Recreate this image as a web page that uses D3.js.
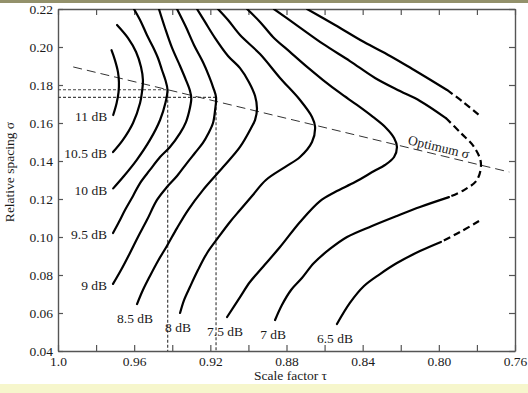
<!DOCTYPE html>
<html><head><meta charset="utf-8">
<script src="https://cdn.jsdelivr.net/npm/d3@7"></script>
<style>
body{margin:0;background:#fff}
svg{display:block}
text{font-family:"Liberation Serif","Times New Roman",serif}
</style>
</head><body>
<svg id="chart" width="528" height="393"></svg>
<script>
// ---------- data ----------
const xDomain = [1.0, 0.76];
const yDomain = [0.04, 0.22];
const xTicks = [1.0, 0.98, 0.96, 0.94, 0.92, 0.90, 0.88, 0.86, 0.84, 0.82, 0.80, 0.78, 0.76];
const xTickLabels = ["1.0", "", "0.96", "", "0.92", "", "0.88", "", "0.84", "", "0.80", "", "0.76"];
const yTicks = [0.04, 0.06, 0.08, 0.10, 0.12, 0.14, 0.16, 0.18, 0.20, 0.22];
const yTickLabels = ["0.04", "0.06", "0.08", "0.10", "0.12", "0.14", "0.16", "0.18", "0.20", "0.22"];
const xTitle = "Scale factor \u03c4";
const yTitle = "Relative spacing \u03c3";
const optimumLabel = "Optimum \u03c3";
const curveLabels = ["11 dB", "10.5 dB", "10 dB", "9.5 dB", "9 dB", "8.5 dB", "8 dB", "7.5 dB", "7 dB", "6.5 dB"];

// contour curves: [tau, sigma]
const curve11 = [[0.9719,0.1983],[0.9701,0.1931],[0.9685,0.1868],[0.9680,0.1815],[0.9682,0.1762],[0.9692,0.1705],[0.9710,0.1642]];
const curve10_5 = [[0.9690,0.2116],[0.9632,0.2047],[0.9590,0.1974],[0.9564,0.1895],[0.9554,0.1826],[0.9559,0.1763],[0.9569,0.1705],[0.9606,0.1600],[0.9659,0.1511],[0.9711,0.1447]];
const curve10 = [[0.9601,0.2200],[0.9564,0.2132],[0.9533,0.2063],[0.9501,0.2000],[0.9475,0.1942],[0.9454,0.1879],[0.9436,0.1826],[0.9425,0.1775],[0.9436,0.1705],[0.9464,0.1616],[0.9517,0.1511],[0.9587,0.1405],[0.9657,0.1317],[0.9710,0.1256]];
const curve9_5 = [[0.9470,0.2200],[0.9438,0.2100],[0.9401,0.1995],[0.9359,0.1900],[0.9328,0.1826],[0.9307,0.1770],[0.9300,0.1730],[0.9307,0.1680],[0.9328,0.1605],[0.9359,0.1547],[0.9412,0.1474],[0.9464,0.1421],[0.9517,0.1353],[0.9569,0.1284],[0.9606,0.1216],[0.9648,0.1142],[0.9680,0.1079],[0.9711,0.1021]];
const curve9 = [[0.9375,0.2200],[0.9328,0.2105],[0.9286,0.2011],[0.9239,0.1921],[0.9207,0.1847],[0.9184,0.1784],[0.9170,0.1735],[0.9175,0.1668],[0.9186,0.1600],[0.9212,0.1542],[0.9239,0.1495],[0.9281,0.1442],[0.9323,0.1389],[0.9375,0.1321],[0.9428,0.1263],[0.9480,0.1195],[0.9533,0.1089],[0.9580,0.1000],[0.9622,0.0916],[0.9669,0.0826],[0.9711,0.0753]];
const curve8_5 = [[0.9270,0.2200],[0.9228,0.2132],[0.9175,0.2047],[0.9107,0.1953],[0.9044,0.1889],[0.8997,0.1815],[0.8965,0.1742],[0.8955,0.1675],[0.8965,0.1616],[0.8983,0.1579],[0.9044,0.1474],[0.9133,0.1368],[0.9239,0.1247],[0.9317,0.1142],[0.9375,0.1047],[0.9428,0.0953],[0.9475,0.0874],[0.9517,0.0795],[0.9554,0.0721],[0.9585,0.0647]];
const curve8 = [[0.9160,0.2200],[0.9107,0.2142],[0.9044,0.2063],[0.8939,0.1963],[0.8834,0.1837],[0.8729,0.1721],[0.8666,0.1632],[0.8650,0.1580],[0.8666,0.1500],[0.8729,0.1421],[0.8808,0.1368],[0.8908,0.1300],[0.8981,0.1216],[0.9044,0.1142],[0.9097,0.1079],[0.9160,0.0995],[0.9217,0.0916],[0.9265,0.0826],[0.9307,0.0737],[0.9338,0.0668],[0.9359,0.0600]];
const curve7_5 = [[0.9007,0.2200],[0.8939,0.2132],[0.8871,0.2053],[0.8782,0.1974],[0.8692,0.1895],[0.8608,0.1826],[0.8519,0.1758],[0.8430,0.1695],[0.8346,0.1632],[0.8277,0.1574],[0.8235,0.1521],[0.8220,0.1474],[0.8235,0.1421],[0.8283,0.1379],[0.8340,0.1347],[0.8440,0.1289],[0.8545,0.1237],[0.8624,0.1189],[0.8729,0.1079],[0.8834,0.0947],[0.8929,0.0837],[0.8992,0.0763],[0.9044,0.0684],[0.9112,0.0579]];
const curve7Upper = [[0.8866,0.2200],[0.8740,0.2110],[0.8608,0.2016],[0.8467,0.1926],[0.8335,0.1837],[0.8204,0.1768],[0.8099,0.1716],[0.7963,0.1626]];
const curve7Nose = [[0.7963,0.1626],[0.7884,0.1547],[0.7815,0.1474],[0.7779,0.1389],[0.7800,0.1300],[0.7868,0.1247],[0.7947,0.1210]];
const curve7Lower = [[0.7947,0.1210],[0.8099,0.1158],[0.8220,0.1111],[0.8351,0.1058],[0.8482,0.1000],[0.8572,0.0937],[0.8656,0.0863],[0.8719,0.0784],[0.8776,0.0721],[0.8824,0.0642],[0.8860,0.0563]];
const curve6_5Upper = [[0.8692,0.2200],[0.8545,0.2116],[0.8393,0.2026],[0.8256,0.1953],[0.8130,0.1879],[0.7957,0.1774]];
const curve6_5UpperExt = [[0.7957,0.1774],[0.7873,0.1711],[0.7789,0.1642]];
const curve6_5LowerExt = [[0.7789,0.1084],[0.7889,0.1026],[0.7989,0.0974]];
const curve6_5Lower = [[0.7989,0.0974],[0.8099,0.0926],[0.8220,0.0863],[0.8309,0.0805],[0.8393,0.0742],[0.8467,0.0653],[0.8535,0.0542]];

const optimumLine = [[0.992,0.1895],[0.763,0.1342]];
const optimumLabelTau = 0.801;
const designPoints = [[0.9424,0.1775],[0.9170,0.1735]];

// ---------- chart ----------
const W = 528, H = 393;
const m = {l:58, t:9, r:13, b:42};
const svg = d3.select("#chart");
const x = d3.scaleLinear().domain(xDomain).range([m.l, W - m.r]);
const y = d3.scaleLinear().domain(yDomain).range([H - m.b, m.t]);

svg.append("rect").attr("x",0).attr("y",0).attr("width",W).attr("height",H).attr("fill","#fff");
svg.append("rect").attr("x",0).attr("y",0).attr("width",W).attr("height",3).attr("fill","#93916b");
svg.append("rect").attr("x",0).attr("y",384).attr("width",W).attr("height",H-384).attr("fill","#f6f6cc");

const axisColor = "#555";
const textColor = "#1a1a1a";
function styleAxis(g){
  g.selectAll(".domain").attr("stroke", axisColor).attr("stroke-width", 1.4);
  g.selectAll(".tick line").attr("stroke", axisColor).attr("stroke-width", 1.2);
  g.selectAll("text").attr("fill", textColor).style("font-family", '"Liberation Serif","Times New Roman",serif').style("font-size","13.5px");
}

const gB = svg.append("g").attr("transform", `translate(0,${H-m.b})`)
  .call(d3.axisBottom(x).tickValues(xTicks).tickFormat((d,i)=>xTickLabels[i]).tickSizeInner(-6).tickSizeOuter(0).tickPadding(5));
styleAxis(gB);
const gT = svg.append("g").attr("transform", `translate(0,${m.t})`)
  .call(d3.axisTop(x).tickValues(xTicks).tickFormat("").tickSizeInner(-6).tickSizeOuter(0));
styleAxis(gT);
const gL = svg.append("g").attr("transform", `translate(${m.l},0)`)
  .call(d3.axisLeft(y).tickValues(yTicks).tickFormat((d,i)=>yTickLabels[i]).tickSizeInner(-5).tickSizeOuter(0).tickPadding(5));
styleAxis(gL);
const gR = svg.append("g").attr("transform", `translate(${W-m.r},0)`)
  .call(d3.axisRight(y).tickValues(yTicks).tickFormat("").tickSizeInner(-6).tickSizeOuter(0));
styleAxis(gR);

// titles
svg.append("text").attr("x", (m.l + W - m.r)/2 + 4).attr("y", 380)
  .attr("text-anchor","middle").attr("fill",textColor).style("font-size","13.5px").text(xTitle);
svg.append("text").attr("transform", `translate(14,172) rotate(-90)`)
  .attr("text-anchor","middle").attr("fill",textColor).style("font-size","13.5px").text(yTitle);

// clip
svg.append("clipPath").attr("id","plotclip").append("rect")
  .attr("x", m.l).attr("y", m.t).attr("width", W-m.l-m.r).attr("height", H-m.t-m.b);
const plot = svg.append("g").attr("clip-path","url(#plotclip)");

// design point dotted lines
designPoints.forEach(p=>{
  plot.append("line").attr("x1", x(xDomain[0])).attr("x2", x(p[0])).attr("y1", y(p[1])).attr("y2", y(p[1]))
    .attr("stroke","#444").attr("stroke-width",1.2).attr("stroke-dasharray","3,2");
  plot.append("line").attr("x1", x(p[0])).attr("x2", x(p[0])).attr("y1", y(p[1])).attr("y2", y(yDomain[0]))
    .attr("stroke","#444").attr("stroke-width",1.2).attr("stroke-dasharray","3,2");
});

// optimum line
plot.append("line")
  .attr("x1", x(optimumLine[0][0])).attr("y1", y(optimumLine[0][1]))
  .attr("x2", x(optimumLine[1][0])).attr("y2", y(optimumLine[1][1]))
  .attr("stroke","#333").attr("stroke-width",1).attr("stroke-dasharray","9,5");

// contours
const contours = [
  {label: curveLabels[0], side:"left", segs:[{pts:curve11}]},
  {label: curveLabels[1], side:"left", segs:[{pts:curve10_5}]},
  {label: curveLabels[2], side:"left", segs:[{pts:curve10}]},
  {label: curveLabels[3], side:"left", segs:[{pts:curve9_5}]},
  {label: curveLabels[4], side:"left", segs:[{pts:curve9}]},
  {label: curveLabels[5], side:"bottom", segs:[{pts:curve8_5}]},
  {label: curveLabels[6], side:"bottom", segs:[{pts:curve8}]},
  {label: curveLabels[7], side:"bottom", segs:[{pts:curve7_5}]},
  {label: curveLabels[8], side:"bottom", segs:[{pts:curve7Upper},{pts:curve7Nose,dashed:true},{pts:curve7Lower}]},
  {label: curveLabels[9], side:"bottom", segs:[{pts:curve6_5Upper},{pts:curve6_5UpperExt,dashed:true},{pts:curve6_5LowerExt,dashed:true},{pts:curve6_5Lower}]}
];
const line = d3.line().x(d=>x(d[0])).y(d=>y(d[1])).curve(d3.curveCatmullRom.alpha(0.5));
contours.forEach(c=>{
  c.segs.forEach(s=>{
    plot.append("path").attr("d", line(s.pts)).attr("fill","none")
      .attr("stroke","#000").attr("stroke-width",2.2).attr("stroke-linecap", s.dashed ? "butt" : "round")
      .attr("stroke-dasharray", s.dashed ? "7,4" : null);
  });
  const lastSeg = c.segs[c.segs.length-1].pts;
  const end = lastSeg[lastSeg.length-1];
  const t = svg.append("text").attr("fill",textColor).style("font-size","13.5px").attr("dy","0.35em").text(c.label);
  if (c.side === "left") {
    t.attr("x", x(end[0]) - 6).attr("y", y(end[1]) + 1.5).attr("text-anchor","end");
  } else {
    t.attr("x", x(end[0]) - 2).attr("y", y(end[1]) + 14.5).attr("text-anchor","middle");
  }
});

// optimum label
const ox1 = x(optimumLine[0][0]), oy1 = y(optimumLine[0][1]);
const ox2 = x(optimumLine[1][0]), oy2 = y(optimumLine[1][1]);
const ang = Math.atan2(oy2-oy1, ox2-ox1) * 180 / Math.PI;
const fr = (optimumLabelTau - optimumLine[0][0]) / (optimumLine[1][0] - optimumLine[0][0]);
const sigAt = optimumLine[0][1] + fr * (optimumLine[1][1] - optimumLine[0][1]);
svg.append("text")
  .attr("transform", `translate(${x(optimumLabelTau)},${y(sigAt)}) rotate(${ang})`)
  .attr("x",0).attr("y",-8).attr("dy","0.35em").attr("text-anchor","middle")
  .attr("fill",textColor).style("font-size","13.5px").text(optimumLabel);
</script>
</body></html>
